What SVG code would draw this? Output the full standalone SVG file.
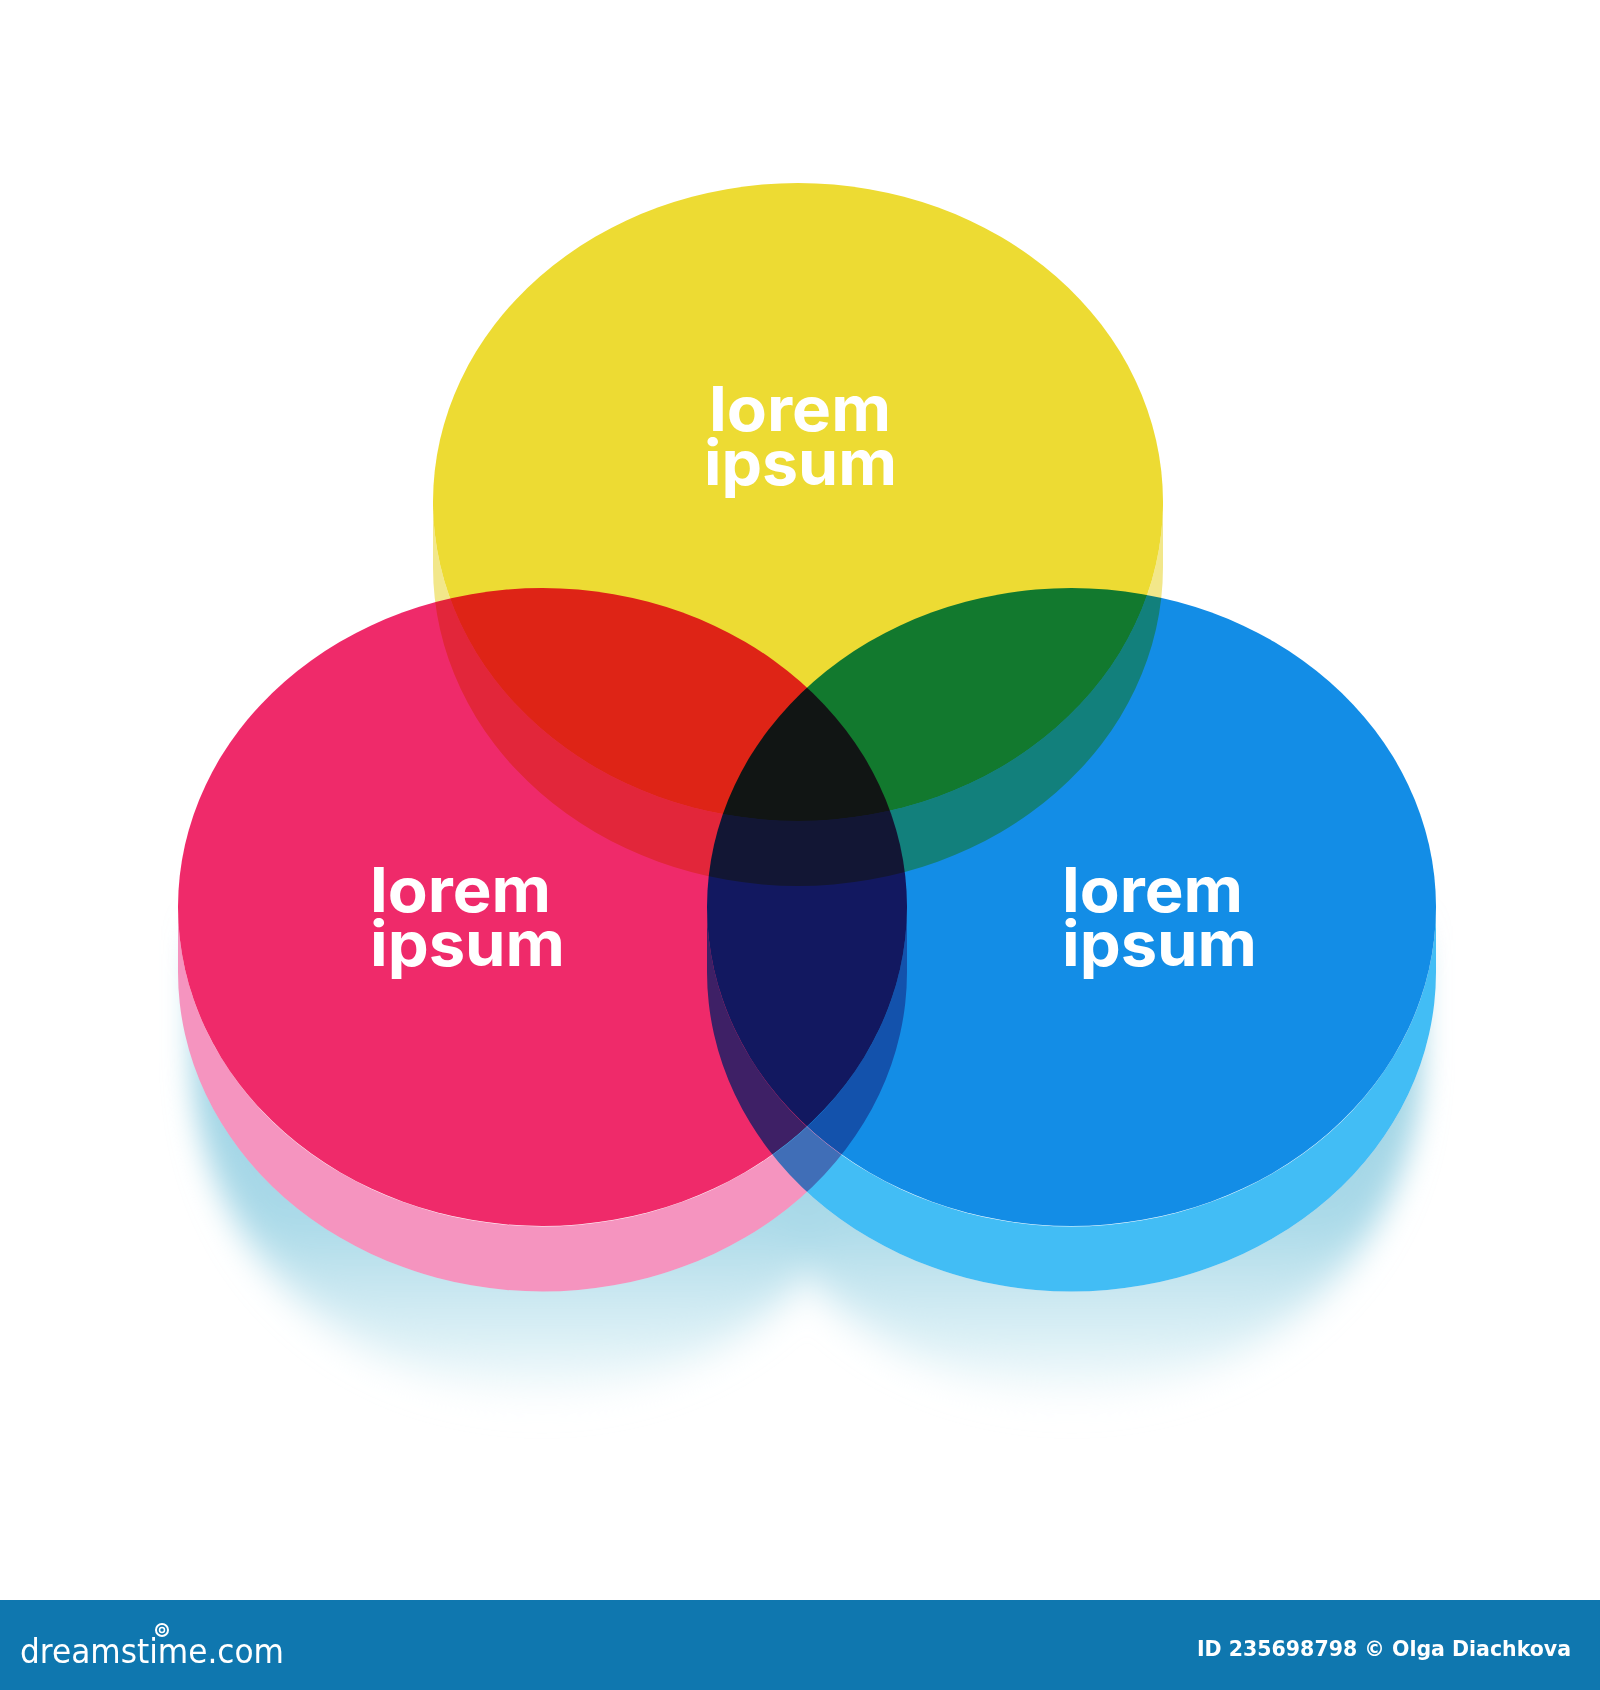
<svg xmlns="http://www.w3.org/2000/svg" width="1600" height="1690" viewBox="0 0 1600 1690">
<style>
.cyl{mix-blend-mode:multiply}
.lbl{font-family:Inter,"Open Sans","Liberation Sans",sans-serif;font-weight:700;font-size:62px;fill:#ffffff}
.ban{fill:#ffffff}
</style>
<defs>
<linearGradient id="shg" x1="0" y1="1000" x2="0" y2="1440" gradientUnits="userSpaceOnUse">
<stop offset="0" stop-color="#9cd2e3"/>
<stop offset="0.5" stop-color="#a9d9e8"/>
<stop offset="0.8" stop-color="#d2ecf3" stop-opacity="0.7"/>
<stop offset="1" stop-color="#ffffff" stop-opacity="0"/>
</linearGradient>
<filter id="sblur" x="-10%" y="-20%" width="120%" height="140%">
<feGaussianBlur stdDeviation="14 22"/>
</filter>
</defs>
<rect x="0" y="0" width="1600" height="1690" fill="#ffffff"/>
<g id="shadow" filter="url(#sblur)">
<path d="M192,940 L192,1060 A350,330 0 0 0 892,1060 L892,940 Z" fill="url(#shg)"/>
<path d="M722,940 L722,1060 A350,330 0 0 0 1422,1060 L1422,940 Z" fill="url(#shg)"/>
</g>
<g id="cover" fill="#ffffff">
<path d="M178,907 L178,972 A364,319 0 0 0 907,972 L907,907 A364,319 0 0 0 178,907 Z"/>
<path d="M707,907 L707,972 A364,319 0 0 0 1436,972 L1436,907 A364,319 0 0 0 707,907 Z"/>
</g>
<g id="pink" class="cyl">
<path d="M178,907 L178,972 A364,319 0 0 0 907,972 L907,907 A364,319 0 0 1 178,907 Z" fill="#f594bf"/>
<ellipse cx="542.5" cy="907" rx="364.5" ry="319" fill="#ef2a6a"/>
</g>
<g id="blue" class="cyl">
<path d="M707,907 L707,972 A364,319 0 0 0 1436,972 L1436,907 A364,319 0 0 1 707,907 Z" fill="#42bdf5"/>
<ellipse cx="1071.5" cy="907" rx="364.5" ry="319" fill="#138de6"/>
</g>
<g id="yellow" class="cyl">
<path d="M433,502 L433,567 A365,319 0 0 0 1163,567 L1163,502 A365,319 0 0 1 433,502 Z" fill="#f2e78a"/>
<ellipse cx="798" cy="502" rx="365" ry="319" fill="#eddb33"/>
</g>
<g id="labels">
<text class="lbl"><tspan x="709" y="431" textLength="182" lengthAdjust="spacingAndGlyphs">lorem</tspan><tspan x="704" y="485" textLength="193" lengthAdjust="spacingAndGlyphs">ipsum</tspan></text>
<text class="lbl"><tspan x="370" y="912" textLength="181" lengthAdjust="spacingAndGlyphs">lorem</tspan><tspan x="370" y="966" textLength="195" lengthAdjust="spacingAndGlyphs">ipsum</tspan></text>
<text class="lbl"><tspan x="1062" y="912" textLength="181" lengthAdjust="spacingAndGlyphs">lorem</tspan><tspan x="1062" y="966" textLength="195" lengthAdjust="spacingAndGlyphs">ipsum</tspan></text>
</g>
<g id="banner">
<rect x="0" y="1600" width="1600" height="90" fill="#0f77af"/>
<text class="ban" x="20" y="1663" font-family="'DejaVu Sans','Liberation Sans',sans-serif" font-size="34" textLength="264" lengthAdjust="spacingAndGlyphs">dreamstime.com</text>
<circle cx="162" cy="1630" r="6" fill="none" stroke="#ffffff" stroke-width="2"/>
<circle cx="162" cy="1630" r="2.5" fill="none" stroke="#ffffff" stroke-width="1.5"/>
<text class="ban" x="1197" y="1656" font-family="'DejaVu Sans Condensed','DejaVu Sans','Liberation Sans',sans-serif" font-weight="700" font-size="22" textLength="374" lengthAdjust="spacingAndGlyphs">ID 235698798 © Olga Diachkova</text>
</g>
</svg>
